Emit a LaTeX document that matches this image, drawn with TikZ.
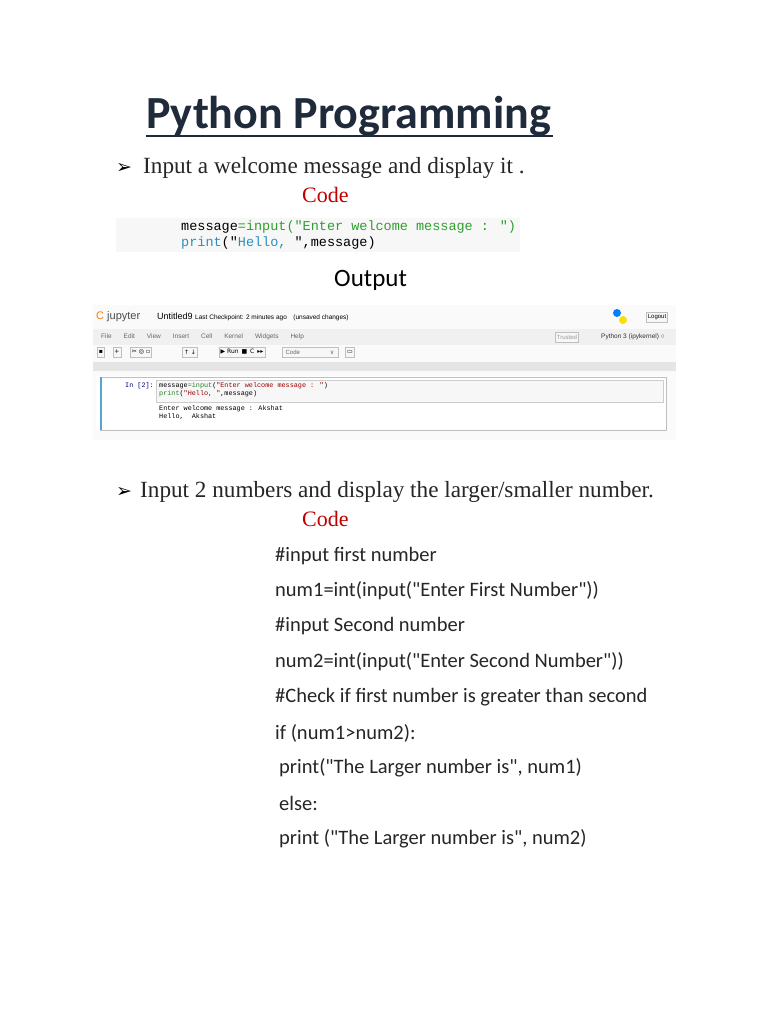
\documentclass[tikz,border=0pt]{standalone}
\usepackage{fontspec}
\setmainfont{Liberation Serif}
\newfontfamily\calfnt{Carlito}
\newfontfamily\monofnt{Liberation Mono}
\newfontfamily\dvfnt{DejaVu Sans}
\newfontfamily\lsfnt{Liberation Sans}
\definecolor{titlec}{HTML}{1F2A3A}
\definecolor{codered}{HTML}{C00000}
\definecolor{kgreen}{HTML}{2EA02E}
\definecolor{kblue}{HTML}{2A8FC0}
\begin{document}
\begin{tikzpicture}[x=1pt,y=-1pt,
  txt/.style={anchor=west,inner sep=0pt},
  bul/.style={txt,font=\fontsize{23.2}{25}\selectfont,text=black!85},
  cl/.style={txt,font=\calfnt\fontsize{20.5}{22}\selectfont,text=black!85},
  jt/.style={txt,font=\lsfnt\fontsize{6.5}{8}\selectfont,text=black!60},
  btn/.style={draw=black!25,fill=black!3,minimum height=10pt,inner sep=1.5pt,font=\dvfnt\fontsize{6}{7}\selectfont}]
\useasboundingbox[fill=white] (0,0) rectangle (768,1024);
\node[txt,font=\calfnt\bfseries\fontsize{46}{50}\selectfont,text=titlec] (title) at (146,116) {Python Programming};
\draw[titlec,line width=1.5pt] (146,136) -- (553,136);
\node[txt,font=\dvfnt\fontsize{19}{20}\selectfont] (b1) at (116,168) {➢};
\node[bul] (t1) at (143,168) {Input a welcome message and display it .};
\node[txt,font=\fontsize{22}{24}\selectfont,text=codered] (c1) at (302,195) {Code};
\fill[black!3] (116,218) rectangle (520,252);
\node[txt,font=\monofnt\fontsize{13.5}{16}\selectfont] (m1) at (181,227) {message\textcolor{kgreen}{=input("Enter welcome message : ")}};
\node[txt,font=\monofnt\fontsize{13.5}{16}\selectfont] (m2) at (181,243) {\textcolor{kblue}{print}("\textcolor{kblue}{Hello, }",message)};
\node[txt,font=\calfnt\fontsize{25}{26}\selectfont] (out) at (334,280) {Output};
% jupyter screenshot
\fill[black!2] (93,305) rectangle (676,440);
\node[txt,font=\lsfnt\fontsize{11}{12}\selectfont,text=black!70] (jl) at (96,317) {{\color{orange}C} jupyter};
\node[txt,font=\lsfnt\fontsize{9}{10}\selectfont] (ut) at (157,317) {Untitled9 {\fontsize{6.5}{8}\selectfont Last Checkpoint: 2 minutes ago\quad (unsaved changes)}};
\fill[blue!50!cyan] (617,313) circle (4); \fill[yellow!80!orange] (623,320) circle (4);
\node[btn,font=\lsfnt\fontsize{6}{7}\selectfont] (lo) at (657,317) {Logout};
\fill[black!6] (93,329) rectangle (676,345);
\node[jt] (menu) at (101,337) {File\hspace{12pt}Edit\hspace{12pt}View\hspace{12pt}Insert\hspace{12pt}Cell\hspace{12pt}Kernel\hspace{12pt}Widgets\hspace{12pt}Help};
\node[btn,text=black!40,font=\lsfnt\fontsize{6}{7}\selectfont] (tr) at (567,337) {Trusted};
\node[jt,text=black!80] (py) at (601,337) {Python 3 (ipykernel) ○};
\node[btn] (tb1) at (101,352) {▪};
\node[btn] (tb2) at (117,352) {+};
\node[btn] (tb3) at (141,352) {✂ ◎ ▫};
\node[btn] (tb4) at (190,352) {↑ ↓};
\node[btn] (tb5) at (242,352) {▶ Run \,■\, C \,▸▸};
\node[btn,text=black!60,minimum width=56pt,font=\lsfnt\fontsize{6}{7}\selectfont] (tb6) at (310,352) {Code\hspace{30pt}{\dvfnt ∨}};
\node[btn] (tb7) at (350,352) {▭};
\fill[black!10] (93,362) rectangle (676,371);
\fill[white] (96,376) rectangle (666,431);
\draw[black!25] (100,377) rectangle (666,430);
\fill[kblue!80] (100,377) rectangle (102,430);
\node[txt,font=\monofnt\fontsize{6.8}{8}\selectfont,text=blue!50!black] (inp) at (125,386) {In [2]:};
\draw[black!20,fill=black!3] (156,380) rectangle (663,402);
\node[txt,font=\monofnt\fontsize{6.8}{8}\selectfont,align=left,anchor=north west] (cc) at (159,382) {message\textcolor{kgreen!80!black}{=input}(\textcolor{red!60!black}{"Enter welcome message : "})\\\textcolor{kgreen!80!black}{print}(\textcolor{red!60!black}{"Hello, "},message)};
\node[txt,font=\monofnt\fontsize{6.8}{8}\selectfont,align=left,anchor=north west] (oo) at (159,405) {Enter welcome message : Akshat\\Hello,\ \ Akshat};
% second part
\node[txt,font=\dvfnt\fontsize{19}{20}\selectfont] (b2) at (116,492) {➢};
\node[bul] (t2) at (140,492) {Input 2 numbers and display the larger/smaller number.};
\node[txt,font=\fontsize{22}{24}\selectfont,text=codered] (c2) at (302,519) {Code};
\node[cl] (l1) at (275,556) {\#input first number};
\node[cl] (l2) at (275,591) {num1=int(input("Enter First Number"))};
\node[cl] (l3) at (275,626) {\#input Second number};
\node[cl] (l4) at (275,662) {num2=int(input("Enter Second Number"))};
\node[cl] (l5) at (275,697) {\#Check if first number is greater than second};
\node[cl] (l6) at (275,733) {if (num1>num2):};
\node[cl] (l7) at (279,768) {print("The Larger number is", num1)};
\node[cl] (l8) at (279,803) {else:};
\node[cl] (l9) at (279,839) {print ("The Larger number is", num2)};
\end{tikzpicture}
\end{document}
